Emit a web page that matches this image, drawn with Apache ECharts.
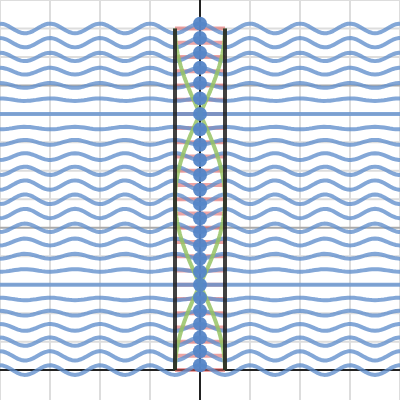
<!DOCTYPE html><html><head><meta charset="utf-8"><script src="https://cdn.jsdelivr.net/npm/echarts@6/dist/echarts.min.js"></script>
<style>body{margin:0}#c{width:400px;height:400px}</style></head><body><div id="c"></div><script>
const levels=[0,0.5,1,1.5,2,2.5,3,3.5,4,4.5,5,5.5,6,6.5,7,7.5,8,8.5,9,9.5,10,10.5,11,11.5,12];
const amps=[0.17,0.164,0.147,0.12,0.085,0.044,0,-0.044,-0.085,-0.12,-0.147,-0.164,-0.17,-0.164,-0.147,-0.12,-0.085,-0.044,0,0.044,0.085,0.12,0.147,0.164,0.17];
const gridY=[1,2,3,4,5,6,7,8,9,10,11,12,13];
const majorY=[5,10];
const barX=[-0.5,0.5];
const barTop=12;
const greenHalf=0.5, greenPeriod=12;
const series=[];
function ln(data,color,w,z){series.push({type:'line',data:data,showSymbol:false,silent:true,lineStyle:{color:color,width:w},z:z});}
gridY.forEach(g=>ln([[-4,g],[4,g]],majorY.includes(g)?'#aaa':'#ddd',2,1));
ln([[-4,0],[4,0]],'#222',2,2);
ln([[0,-2],[0,14]],'#222',2,2);
levels.forEach(k=>ln([[-0.5,k],[0.5,k]],'rgba(220,90,90,0.55)',4,3));
levels.forEach((k,i)=>{const d=[];for(let x=-4;x<=4.0001;x+=0.02)d.push([x,k+amps[i]*Math.cos(2*Math.PI*x)]);ln(d,'rgba(100,145,205,0.8)',4,4);});
[1,-1].forEach(s=>{const d=[];for(let y=0;y<=barTop+0.001;y+=0.05)d.push([s*greenHalf*Math.cos(2*Math.PI*y/greenPeriod),y]);ln(d,'rgba(150,195,100,0.85)',4,5);});
barX.forEach(x=>ln([[x,0],[x,barTop]],'rgba(30,30,30,0.85)',4,6));
series.push({type:'scatter',data:levels.map((k,i)=>[0,k+amps[i]]),symbolSize:14,itemStyle:{color:'#5586c8',opacity:0.95},z:7,silent:true});
const chart=echarts.init(document.getElementById('c'));
chart.setOption({animation:false,grid:{left:0,right:0,top:0,bottom:0},
xAxis:{type:'value',min:-4,max:4,interval:1,axisLine:{show:false},axisTick:{show:false},axisLabel:{show:false},splitLine:{lineStyle:{color:'#ddd',width:2}}},
yAxis:{type:'value',min:-1.05,max:13,axisLine:{show:false},axisTick:{show:false},axisLabel:{show:false},splitLine:{show:false}},
series:series});
</script></body></html>
